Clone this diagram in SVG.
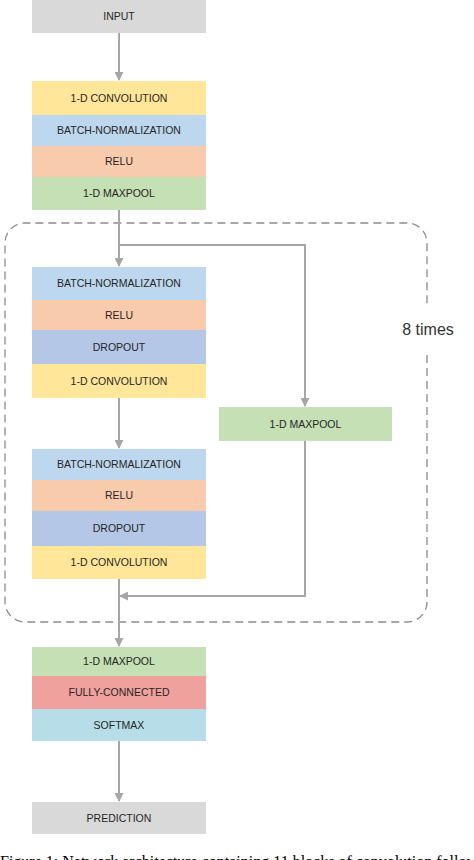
<svg xmlns="http://www.w3.org/2000/svg" width="474" height="860" viewBox="0 0 474 860">
<style>
.lbl{font-family:"Liberation Sans",Arial,sans-serif;font-size:10.5px;fill:#262626;text-anchor:middle}
.conn{stroke:#a6a6a6;stroke-width:2;fill:none}
.dash{stroke:#8c8c8c;stroke-width:1.3;fill:none;stroke-dasharray:8 5}
.gray{fill:#d9d9d9}.conv{fill:#ffe699}.bn{fill:#bdd7ee}.relu{fill:#f8cbad}.pool{fill:#c5e0b4}.drop{fill:#b4c7e7}.fc{fill:#f1a19d}.soft{fill:#b7dee8}
</style>
<defs>
<marker id="ah" viewBox="0 0 10 10" refX="9" refY="5" markerWidth="4.5" markerHeight="4.5" orient="auto" markerUnits="strokeWidth">
<path d="M0,0 L10,5 L0,10 z" fill="#a6a6a6"/>
</marker>
</defs>
<rect width="474" height="860" fill="#ffffff"/>
<g id="repeat-frame">
<path class="dash" d="M427,355 V602 A20,20 0 0 1 407,622 H25 A20,20 0 0 1 5,602 V243 A20,20 0 0 1 25,223 H407 A20,20 0 0 1 427,243 V305"/>
<text x="428" y="335" style="font-family:'Liberation Sans',Arial,sans-serif;font-size:16px;fill:#333;text-anchor:middle">8 times</text>
</g>
<g id="connectors">
<line class="conn" x1="119" y1="33" x2="119" y2="80" marker-end="url(#ah)"/>
<line class="conn" x1="119" y1="210" x2="119" y2="266" marker-end="url(#ah)"/>
<polyline class="conn" points="119,245 305,245 305,406" marker-end="url(#ah)"/>
<line class="conn" x1="119" y1="398" x2="119" y2="448" marker-end="url(#ah)"/>
<polyline class="conn" points="305,441 305,596 120,596" marker-end="url(#ah)"/>
<line class="conn" x1="119" y1="579" x2="119" y2="646" marker-end="url(#ah)"/>
<line class="conn" x1="119" y1="741" x2="119" y2="801" marker-end="url(#ah)"/>
</g>
<g id="input">
<rect class="gray" x="32" y="0" width="174" height="33"/>
<text class="lbl" x="119" y="20">INPUT</text>
</g>
<g id="block1">
<rect class="conv" x="32" y="81" width="174" height="34"/>
<text class="lbl" x="119" y="101.5">1-D CONVOLUTION</text>
<rect class="bn" x="32" y="115" width="174" height="31"/>
<text class="lbl" x="119" y="134">BATCH-NORMALIZATION</text>
<rect class="relu" x="32" y="146" width="174" height="31"/>
<text class="lbl" x="119" y="165">RELU</text>
<rect class="pool" x="32" y="177" width="174" height="33"/>
<text class="lbl" x="119" y="197">1-D MAXPOOL</text>
</g>
<g id="block2">
<rect class="bn" x="32" y="267" width="174" height="33"/>
<text class="lbl" x="119" y="287">BATCH-NORMALIZATION</text>
<rect class="relu" x="32" y="300" width="174" height="30"/>
<text class="lbl" x="119" y="318.5">RELU</text>
<rect class="drop" x="32" y="330" width="174" height="34"/>
<text class="lbl" x="119" y="350.5">DROPOUT</text>
<rect class="conv" x="32" y="364" width="174" height="34"/>
<text class="lbl" x="119" y="384.5">1-D CONVOLUTION</text>
</g>
<g id="skip-maxpool">
<rect class="pool" x="219" y="407" width="173" height="34"/>
<text class="lbl" x="305.5" y="427.5">1-D MAXPOOL</text>
</g>
<g id="block3">
<rect class="bn" x="32" y="449" width="174" height="31"/>
<text class="lbl" x="119" y="468">BATCH-NORMALIZATION</text>
<rect class="relu" x="32" y="480" width="174" height="31"/>
<text class="lbl" x="119" y="499">RELU</text>
<rect class="drop" x="32" y="511" width="174" height="35"/>
<text class="lbl" x="119" y="532">DROPOUT</text>
<rect class="conv" x="32" y="546" width="174" height="33"/>
<text class="lbl" x="119" y="566">1-D CONVOLUTION</text>
</g>
<g id="block4">
<rect class="pool" x="32" y="647" width="174" height="29"/>
<text class="lbl" x="119" y="665">1-D MAXPOOL</text>
<rect class="fc" x="32" y="676" width="174" height="33"/>
<text class="lbl" x="119" y="696">FULLY-CONNECTED</text>
<rect class="soft" x="32" y="709" width="174" height="32"/>
<text class="lbl" x="119" y="728.5">SOFTMAX</text>
</g>
<g id="prediction">
<rect class="gray" x="32" y="802" width="174" height="32"/>
<text class="lbl" x="119" y="821.5">PREDICTION</text>
</g>
<text x="0" y="867" style="font-family:'Liberation Serif','Times New Roman',serif;font-size:16px;fill:#000">Figure 1: Network architecture containing 11 blocks of convolution followed</text>
</svg>
